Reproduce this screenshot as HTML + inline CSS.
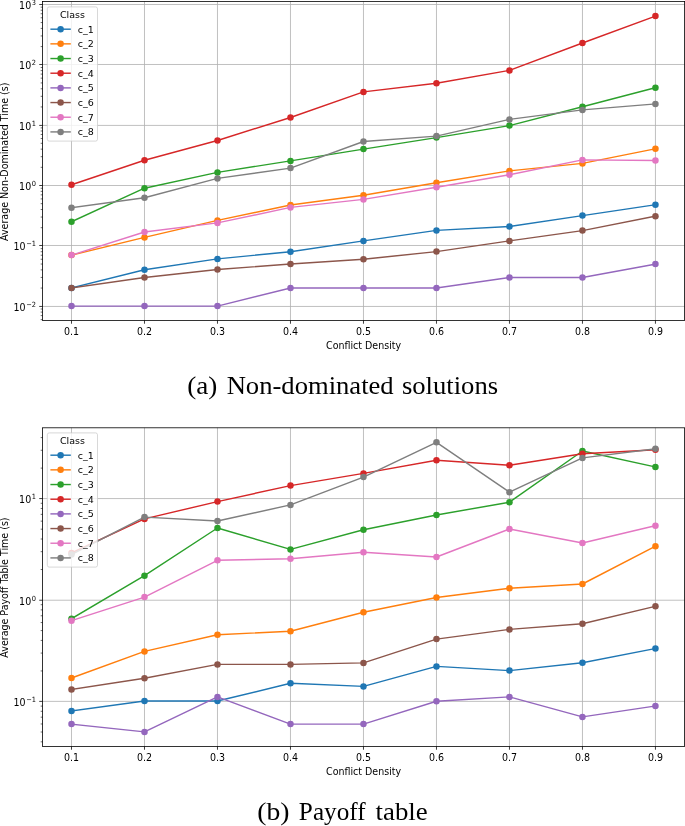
<!DOCTYPE html>
<html><head><meta charset="utf-8"><title>Figure</title>
<style>html,body{margin:0;padding:0;background:#fff;width:685px;height:826px;overflow:hidden}svg{display:block}</style>
</head><body>
<svg width="685" height="826" viewBox="0 0 685 826">
<rect width="685" height="826" fill="#fff"/>
<clipPath id="clip1"><rect x="42.57" y="1.4" width="642.03" height="319"/></clipPath>
<path d="M71.49 1.4V320.4M144.49 1.4V320.4M217.48 1.4V320.4M290.48 1.4V320.4M363.47 1.4V320.4M436.47 1.4V320.4M509.46 1.4V320.4M582.46 1.4V320.4M655.45 1.4V320.4M42.57 306.45H684.6M42.57 245.49H684.6M42.57 185.5H684.6M42.57 125.42H684.6M42.57 64.49H684.6M42.57 4.5H684.6" stroke="#b0b0b0" stroke-width="0.8" fill="none"/>
<g clip-path="url(#clip1)">
<path d="M71.49 288 L144.49 269.7 L217.48 258.9 L290.48 251.7 L363.47 240.9 L436.47 230.4 L509.46 226.5 L582.46 215.6 L655.45 204.7" stroke="#1f77b4" stroke-width="1.43" fill="none" stroke-linejoin="round" stroke-linecap="square"/>
<circle cx="71.49" cy="288" r="3.25" fill="#1f77b4"/><circle cx="144.49" cy="269.7" r="3.25" fill="#1f77b4"/><circle cx="217.48" cy="258.9" r="3.25" fill="#1f77b4"/><circle cx="290.48" cy="251.7" r="3.25" fill="#1f77b4"/><circle cx="363.47" cy="240.9" r="3.25" fill="#1f77b4"/><circle cx="436.47" cy="230.4" r="3.25" fill="#1f77b4"/><circle cx="509.46" cy="226.5" r="3.25" fill="#1f77b4"/><circle cx="582.46" cy="215.6" r="3.25" fill="#1f77b4"/><circle cx="655.45" cy="204.7" r="3.25" fill="#1f77b4"/>
<path d="M71.49 255.1 L144.49 237.4 L217.48 220.4 L290.48 205 L363.47 195.3 L436.47 182.75 L509.46 170.9 L582.46 163.4 L655.45 148.8" stroke="#ff7f0e" stroke-width="1.43" fill="none" stroke-linejoin="round" stroke-linecap="square"/>
<circle cx="71.49" cy="255.1" r="3.25" fill="#ff7f0e"/><circle cx="144.49" cy="237.4" r="3.25" fill="#ff7f0e"/><circle cx="217.48" cy="220.4" r="3.25" fill="#ff7f0e"/><circle cx="290.48" cy="205" r="3.25" fill="#ff7f0e"/><circle cx="363.47" cy="195.3" r="3.25" fill="#ff7f0e"/><circle cx="436.47" cy="182.75" r="3.25" fill="#ff7f0e"/><circle cx="509.46" cy="170.9" r="3.25" fill="#ff7f0e"/><circle cx="582.46" cy="163.4" r="3.25" fill="#ff7f0e"/><circle cx="655.45" cy="148.8" r="3.25" fill="#ff7f0e"/>
<path d="M71.49 221.7 L144.49 188.2 L217.48 172.4 L290.48 160.9 L363.47 149.1 L436.47 137.6 L509.46 125.6 L582.46 106.8 L655.45 87.7" stroke="#2ca02c" stroke-width="1.43" fill="none" stroke-linejoin="round" stroke-linecap="square"/>
<circle cx="71.49" cy="221.7" r="3.25" fill="#2ca02c"/><circle cx="144.49" cy="188.2" r="3.25" fill="#2ca02c"/><circle cx="217.48" cy="172.4" r="3.25" fill="#2ca02c"/><circle cx="290.48" cy="160.9" r="3.25" fill="#2ca02c"/><circle cx="363.47" cy="149.1" r="3.25" fill="#2ca02c"/><circle cx="436.47" cy="137.6" r="3.25" fill="#2ca02c"/><circle cx="509.46" cy="125.6" r="3.25" fill="#2ca02c"/><circle cx="582.46" cy="106.8" r="3.25" fill="#2ca02c"/><circle cx="655.45" cy="87.7" r="3.25" fill="#2ca02c"/>
<path d="M71.49 184.8 L144.49 160.3 L217.48 140.5 L290.48 117.5 L363.47 91.9 L436.47 83.3 L509.46 70.4 L582.46 43 L655.45 16.1" stroke="#d62728" stroke-width="1.43" fill="none" stroke-linejoin="round" stroke-linecap="square"/>
<circle cx="71.49" cy="184.8" r="3.25" fill="#d62728"/><circle cx="144.49" cy="160.3" r="3.25" fill="#d62728"/><circle cx="217.48" cy="140.5" r="3.25" fill="#d62728"/><circle cx="290.48" cy="117.5" r="3.25" fill="#d62728"/><circle cx="363.47" cy="91.9" r="3.25" fill="#d62728"/><circle cx="436.47" cy="83.3" r="3.25" fill="#d62728"/><circle cx="509.46" cy="70.4" r="3.25" fill="#d62728"/><circle cx="582.46" cy="43" r="3.25" fill="#d62728"/><circle cx="655.45" cy="16.1" r="3.25" fill="#d62728"/>
<path d="M71.49 306.1 L144.49 306.1 L217.48 306.1 L290.48 288 L363.47 288 L436.47 288 L509.46 277.5 L582.46 277.5 L655.45 264.1" stroke="#9467bd" stroke-width="1.43" fill="none" stroke-linejoin="round" stroke-linecap="square"/>
<circle cx="71.49" cy="306.1" r="3.25" fill="#9467bd"/><circle cx="144.49" cy="306.1" r="3.25" fill="#9467bd"/><circle cx="217.48" cy="306.1" r="3.25" fill="#9467bd"/><circle cx="290.48" cy="288" r="3.25" fill="#9467bd"/><circle cx="363.47" cy="288" r="3.25" fill="#9467bd"/><circle cx="436.47" cy="288" r="3.25" fill="#9467bd"/><circle cx="509.46" cy="277.5" r="3.25" fill="#9467bd"/><circle cx="582.46" cy="277.5" r="3.25" fill="#9467bd"/><circle cx="655.45" cy="264.1" r="3.25" fill="#9467bd"/>
<path d="M71.49 288 L144.49 277.5 L217.48 269.5 L290.48 264 L363.47 259.2 L436.47 251.6 L509.46 240.9 L582.46 230.6 L655.45 216.2" stroke="#8c564b" stroke-width="1.43" fill="none" stroke-linejoin="round" stroke-linecap="square"/>
<circle cx="71.49" cy="288" r="3.25" fill="#8c564b"/><circle cx="144.49" cy="277.5" r="3.25" fill="#8c564b"/><circle cx="217.48" cy="269.5" r="3.25" fill="#8c564b"/><circle cx="290.48" cy="264" r="3.25" fill="#8c564b"/><circle cx="363.47" cy="259.2" r="3.25" fill="#8c564b"/><circle cx="436.47" cy="251.6" r="3.25" fill="#8c564b"/><circle cx="509.46" cy="240.9" r="3.25" fill="#8c564b"/><circle cx="582.46" cy="230.6" r="3.25" fill="#8c564b"/><circle cx="655.45" cy="216.2" r="3.25" fill="#8c564b"/>
<path d="M71.49 255.1 L144.49 232 L217.48 222.9 L290.48 207.4 L363.47 199.4 L436.47 187.2 L509.46 174.8 L582.46 159.9 L655.45 160.5" stroke="#e377c2" stroke-width="1.43" fill="none" stroke-linejoin="round" stroke-linecap="square"/>
<circle cx="71.49" cy="255.1" r="3.25" fill="#e377c2"/><circle cx="144.49" cy="232" r="3.25" fill="#e377c2"/><circle cx="217.48" cy="222.9" r="3.25" fill="#e377c2"/><circle cx="290.48" cy="207.4" r="3.25" fill="#e377c2"/><circle cx="363.47" cy="199.4" r="3.25" fill="#e377c2"/><circle cx="436.47" cy="187.2" r="3.25" fill="#e377c2"/><circle cx="509.46" cy="174.8" r="3.25" fill="#e377c2"/><circle cx="582.46" cy="159.9" r="3.25" fill="#e377c2"/><circle cx="655.45" cy="160.5" r="3.25" fill="#e377c2"/>
<path d="M71.49 207.7 L144.49 197.7 L217.48 178.4 L290.48 168.1 L363.47 141.5 L436.47 136.1 L509.46 119.4 L582.46 109.9 L655.45 103.9" stroke="#7f7f7f" stroke-width="1.43" fill="none" stroke-linejoin="round" stroke-linecap="square"/>
<circle cx="71.49" cy="207.7" r="3.25" fill="#7f7f7f"/><circle cx="144.49" cy="197.7" r="3.25" fill="#7f7f7f"/><circle cx="217.48" cy="178.4" r="3.25" fill="#7f7f7f"/><circle cx="290.48" cy="168.1" r="3.25" fill="#7f7f7f"/><circle cx="363.47" cy="141.5" r="3.25" fill="#7f7f7f"/><circle cx="436.47" cy="136.1" r="3.25" fill="#7f7f7f"/><circle cx="509.46" cy="119.4" r="3.25" fill="#7f7f7f"/><circle cx="582.46" cy="109.9" r="3.25" fill="#7f7f7f"/><circle cx="655.45" cy="103.9" r="3.25" fill="#7f7f7f"/>
</g>
<rect x="42.57" y="1.4" width="642.03" height="319" fill="none" stroke="#000" stroke-width="0.8"/>
<path d="M71.49 320.4v3.33M144.49 320.4v3.33M217.48 320.4v3.33M290.48 320.4v3.33M363.47 320.4v3.33M436.47 320.4v3.33M509.46 320.4v3.33M582.46 320.4v3.33M655.45 320.4v3.33M42.57 306.45h-3.33M42.57 245.49h-3.33M42.57 185.5h-3.33M42.57 125.42h-3.33M42.57 64.49h-3.33M42.57 4.5h-3.33" stroke="#000" stroke-width="0.76"/>
<path d="M42.57 319.63h-1.9M42.57 315.59h-1.9M42.57 312.09h-1.9M42.57 309h-1.9M42.57 288.06h-1.9M42.57 277.43h-1.9M42.57 269.89h-1.9M42.57 264.04h-1.9M42.57 259.26h-1.9M42.57 255.22h-1.9M42.57 251.72h-1.9M42.57 248.63h-1.9M42.57 227.69h-1.9M42.57 217.06h-1.9M42.57 209.52h-1.9M42.57 203.67h-1.9M42.57 198.89h-1.9M42.57 194.85h-1.9M42.57 191.35h-1.9M42.57 188.26h-1.9M42.57 167.32h-1.9M42.57 156.69h-1.9M42.57 149.15h-1.9M42.57 143.3h-1.9M42.57 138.52h-1.9M42.57 134.48h-1.9M42.57 130.98h-1.9M42.57 127.89h-1.9M42.57 106.95h-1.9M42.57 96.32h-1.9M42.57 88.78h-1.9M42.57 82.93h-1.9M42.57 78.15h-1.9M42.57 74.11h-1.9M42.57 70.61h-1.9M42.57 67.52h-1.9M42.57 46.58h-1.9M42.57 35.95h-1.9M42.57 28.41h-1.9M42.57 22.56h-1.9M42.57 17.78h-1.9M42.57 13.74h-1.9M42.57 10.24h-1.9M42.57 7.15h-1.9" stroke="#000" stroke-width="0.57"/>
<g font-family="'DejaVu Sans', 'Liberation Sans', sans-serif" font-size="9.5" fill="#000">
<text transform="translate(71.49,334.5) scale(1,1.08)" text-anchor="middle">0.1</text>
<text transform="translate(144.49,334.5) scale(1,1.08)" text-anchor="middle">0.2</text>
<text transform="translate(217.48,334.5) scale(1,1.08)" text-anchor="middle">0.3</text>
<text transform="translate(290.48,334.5) scale(1,1.08)" text-anchor="middle">0.4</text>
<text transform="translate(363.47,334.5) scale(1,1.08)" text-anchor="middle">0.5</text>
<text transform="translate(436.47,334.5) scale(1,1.08)" text-anchor="middle">0.6</text>
<text transform="translate(509.46,334.5) scale(1,1.08)" text-anchor="middle">0.7</text>
<text transform="translate(582.46,334.5) scale(1,1.08)" text-anchor="middle">0.8</text>
<text transform="translate(655.45,334.5) scale(1,1.08)" text-anchor="middle">0.9</text>
<text transform="translate(36.1,310.75) scale(1,1.08)" text-anchor="end">10<tspan dx="0.7" dy="-3.6" font-size="6.65">−2</tspan></text>
<text transform="translate(36.1,249.79) scale(1,1.08)" text-anchor="end">10<tspan dx="0.7" dy="-3.6" font-size="6.65">−1</tspan></text>
<text transform="translate(36.1,189.8) scale(1,1.08)" text-anchor="end">10<tspan dx="0.7" dy="-3.6" font-size="6.65">0</tspan></text>
<text transform="translate(36.1,129.72) scale(1,1.08)" text-anchor="end">10<tspan dx="0.7" dy="-3.6" font-size="6.65">1</tspan></text>
<text transform="translate(36.1,68.79) scale(1,1.08)" text-anchor="end">10<tspan dx="0.7" dy="-3.6" font-size="6.65">2</tspan></text>
<text transform="translate(36.1,8.8) scale(1,1.08)" text-anchor="end">10<tspan dx="0.7" dy="-3.6" font-size="6.65">3</tspan></text>
<text transform="translate(363.59,348.5) scale(1,1.08)" text-anchor="middle">Conflict Density</text>
<text transform="translate(7.8,161.8) rotate(-90) scale(1,1.08)" text-anchor="middle">Average Non-Dominated Time (s)</text>
</g>
<rect x="47.3" y="6.9" width="50.2" height="134.2" rx="1.9" fill="#fff" fill-opacity="0.8" stroke="#ccc" stroke-opacity="0.8" stroke-width="0.95"/>
<g font-family="'DejaVu Sans', 'Liberation Sans', sans-serif" font-size="9.5" fill="#000">
<text x="72.4" y="17.7" text-anchor="middle">Class</text>
<path d="M51.1 29.19H70.1" stroke="#1f77b4" stroke-width="1.43" stroke-linecap="square"/>
<circle cx="60.6" cy="29.19" r="3.25" fill="#1f77b4"/>
<text x="77.7" y="32.59">c_1</text>
<path d="M51.1 43.86H70.1" stroke="#ff7f0e" stroke-width="1.43" stroke-linecap="square"/>
<circle cx="60.6" cy="43.86" r="3.25" fill="#ff7f0e"/>
<text x="77.7" y="47.26">c_2</text>
<path d="M51.1 58.54H70.1" stroke="#2ca02c" stroke-width="1.43" stroke-linecap="square"/>
<circle cx="60.6" cy="58.54" r="3.25" fill="#2ca02c"/>
<text x="77.7" y="61.94">c_3</text>
<path d="M51.1 73.21H70.1" stroke="#d62728" stroke-width="1.43" stroke-linecap="square"/>
<circle cx="60.6" cy="73.21" r="3.25" fill="#d62728"/>
<text x="77.7" y="76.61">c_4</text>
<path d="M51.1 87.89H70.1" stroke="#9467bd" stroke-width="1.43" stroke-linecap="square"/>
<circle cx="60.6" cy="87.89" r="3.25" fill="#9467bd"/>
<text x="77.7" y="91.29">c_5</text>
<path d="M51.1 102.56H70.1" stroke="#8c564b" stroke-width="1.43" stroke-linecap="square"/>
<circle cx="60.6" cy="102.56" r="3.25" fill="#8c564b"/>
<text x="77.7" y="105.96">c_6</text>
<path d="M51.1 117.23H70.1" stroke="#e377c2" stroke-width="1.43" stroke-linecap="square"/>
<circle cx="60.6" cy="117.23" r="3.25" fill="#e377c2"/>
<text x="77.7" y="120.63">c_7</text>
<path d="M51.1 131.91H70.1" stroke="#7f7f7f" stroke-width="1.43" stroke-linecap="square"/>
<circle cx="60.6" cy="131.91" r="3.25" fill="#7f7f7f"/>
<text x="77.7" y="135.31">c_8</text>
</g>
<text transform="translate(187.21,394.20) scale(1.0841,1)" font-family="'Liberation Serif', 'DejaVu Serif', serif" font-size="25" fill="#000">(a)</text>
<text transform="translate(226.63,394.20) scale(1.0650,1)" font-family="'Liberation Serif', 'DejaVu Serif', serif" font-size="25" fill="#000">Non-dominated</text>
<text transform="translate(401.91,394.20) scale(1.0659,1)" font-family="'Liberation Serif', 'DejaVu Serif', serif" font-size="25" fill="#000">solutions</text>
<clipPath id="clip2"><rect x="42.57" y="427.8" width="642.03" height="318.6"/></clipPath>
<path d="M71.49 427.8V746.4M144.49 427.8V746.4M217.48 427.8V746.4M290.48 427.8V746.4M363.47 427.8V746.4M436.47 427.8V746.4M509.46 427.8V746.4M582.46 427.8V746.4M655.45 427.8V746.4M42.57 701.39H684.6M42.57 600.22H684.6M42.57 498.57H684.6" stroke="#b0b0b0" stroke-width="0.8" fill="none"/>
<g clip-path="url(#clip2)">
<path d="M71.49 710.9 L144.49 701 L217.48 701 L290.48 683.3 L363.47 686.4 L436.47 666.4 L509.46 670.6 L582.46 662.7 L655.45 648.5" stroke="#1f77b4" stroke-width="1.43" fill="none" stroke-linejoin="round" stroke-linecap="square"/>
<circle cx="71.49" cy="710.9" r="3.25" fill="#1f77b4"/><circle cx="144.49" cy="701" r="3.25" fill="#1f77b4"/><circle cx="217.48" cy="701" r="3.25" fill="#1f77b4"/><circle cx="290.48" cy="683.3" r="3.25" fill="#1f77b4"/><circle cx="363.47" cy="686.4" r="3.25" fill="#1f77b4"/><circle cx="436.47" cy="666.4" r="3.25" fill="#1f77b4"/><circle cx="509.46" cy="670.6" r="3.25" fill="#1f77b4"/><circle cx="582.46" cy="662.7" r="3.25" fill="#1f77b4"/><circle cx="655.45" cy="648.5" r="3.25" fill="#1f77b4"/>
<path d="M71.49 678 L144.49 651.4 L217.48 634.7 L290.48 631.2 L363.47 612.3 L436.47 597.5 L509.46 588.2 L582.46 584 L655.45 546.3" stroke="#ff7f0e" stroke-width="1.43" fill="none" stroke-linejoin="round" stroke-linecap="square"/>
<circle cx="71.49" cy="678" r="3.25" fill="#ff7f0e"/><circle cx="144.49" cy="651.4" r="3.25" fill="#ff7f0e"/><circle cx="217.48" cy="634.7" r="3.25" fill="#ff7f0e"/><circle cx="290.48" cy="631.2" r="3.25" fill="#ff7f0e"/><circle cx="363.47" cy="612.3" r="3.25" fill="#ff7f0e"/><circle cx="436.47" cy="597.5" r="3.25" fill="#ff7f0e"/><circle cx="509.46" cy="588.2" r="3.25" fill="#ff7f0e"/><circle cx="582.46" cy="584" r="3.25" fill="#ff7f0e"/><circle cx="655.45" cy="546.3" r="3.25" fill="#ff7f0e"/>
<path d="M71.49 618.7 L144.49 575.7 L217.48 528 L290.48 549.4 L363.47 529.8 L436.47 515 L509.46 502.2 L582.46 451 L655.45 467" stroke="#2ca02c" stroke-width="1.43" fill="none" stroke-linejoin="round" stroke-linecap="square"/>
<circle cx="71.49" cy="618.7" r="3.25" fill="#2ca02c"/><circle cx="144.49" cy="575.7" r="3.25" fill="#2ca02c"/><circle cx="217.48" cy="528" r="3.25" fill="#2ca02c"/><circle cx="290.48" cy="549.4" r="3.25" fill="#2ca02c"/><circle cx="363.47" cy="529.8" r="3.25" fill="#2ca02c"/><circle cx="436.47" cy="515" r="3.25" fill="#2ca02c"/><circle cx="509.46" cy="502.2" r="3.25" fill="#2ca02c"/><circle cx="582.46" cy="451" r="3.25" fill="#2ca02c"/><circle cx="655.45" cy="467" r="3.25" fill="#2ca02c"/>
<path d="M71.49 553 L144.49 518.9 L217.48 501.6 L290.48 485.6 L363.47 473.4 L436.47 460.3 L509.46 465.2 L582.46 453.7 L655.45 449.8" stroke="#d62728" stroke-width="1.43" fill="none" stroke-linejoin="round" stroke-linecap="square"/>
<circle cx="71.49" cy="553" r="3.25" fill="#d62728"/><circle cx="144.49" cy="518.9" r="3.25" fill="#d62728"/><circle cx="217.48" cy="501.6" r="3.25" fill="#d62728"/><circle cx="290.48" cy="485.6" r="3.25" fill="#d62728"/><circle cx="363.47" cy="473.4" r="3.25" fill="#d62728"/><circle cx="436.47" cy="460.3" r="3.25" fill="#d62728"/><circle cx="509.46" cy="465.2" r="3.25" fill="#d62728"/><circle cx="582.46" cy="453.7" r="3.25" fill="#d62728"/><circle cx="655.45" cy="449.8" r="3.25" fill="#d62728"/>
<path d="M71.49 724.1 L144.49 731.9 L217.48 696.9 L290.48 724.1 L363.47 724.1 L436.47 701.2 L509.46 696.9 L582.46 716.9 L655.45 706" stroke="#9467bd" stroke-width="1.43" fill="none" stroke-linejoin="round" stroke-linecap="square"/>
<circle cx="71.49" cy="724.1" r="3.25" fill="#9467bd"/><circle cx="144.49" cy="731.9" r="3.25" fill="#9467bd"/><circle cx="217.48" cy="696.9" r="3.25" fill="#9467bd"/><circle cx="290.48" cy="724.1" r="3.25" fill="#9467bd"/><circle cx="363.47" cy="724.1" r="3.25" fill="#9467bd"/><circle cx="436.47" cy="701.2" r="3.25" fill="#9467bd"/><circle cx="509.46" cy="696.9" r="3.25" fill="#9467bd"/><circle cx="582.46" cy="716.9" r="3.25" fill="#9467bd"/><circle cx="655.45" cy="706" r="3.25" fill="#9467bd"/>
<path d="M71.49 689.5 L144.49 678.2 L217.48 664.4 L290.48 664.4 L363.47 662.9 L436.47 639.1 L509.46 629.4 L582.46 623.8 L655.45 606.3" stroke="#8c564b" stroke-width="1.43" fill="none" stroke-linejoin="round" stroke-linecap="square"/>
<circle cx="71.49" cy="689.5" r="3.25" fill="#8c564b"/><circle cx="144.49" cy="678.2" r="3.25" fill="#8c564b"/><circle cx="217.48" cy="664.4" r="3.25" fill="#8c564b"/><circle cx="290.48" cy="664.4" r="3.25" fill="#8c564b"/><circle cx="363.47" cy="662.9" r="3.25" fill="#8c564b"/><circle cx="436.47" cy="639.1" r="3.25" fill="#8c564b"/><circle cx="509.46" cy="629.4" r="3.25" fill="#8c564b"/><circle cx="582.46" cy="623.8" r="3.25" fill="#8c564b"/><circle cx="655.45" cy="606.3" r="3.25" fill="#8c564b"/>
<path d="M71.49 620.7 L144.49 597.1 L217.48 560.3 L290.48 558.8 L363.47 552.2 L436.47 557 L509.46 529 L582.46 543 L655.45 525.7" stroke="#e377c2" stroke-width="1.43" fill="none" stroke-linejoin="round" stroke-linecap="square"/>
<circle cx="71.49" cy="620.7" r="3.25" fill="#e377c2"/><circle cx="144.49" cy="597.1" r="3.25" fill="#e377c2"/><circle cx="217.48" cy="560.3" r="3.25" fill="#e377c2"/><circle cx="290.48" cy="558.8" r="3.25" fill="#e377c2"/><circle cx="363.47" cy="552.2" r="3.25" fill="#e377c2"/><circle cx="436.47" cy="557" r="3.25" fill="#e377c2"/><circle cx="509.46" cy="529" r="3.25" fill="#e377c2"/><circle cx="582.46" cy="543" r="3.25" fill="#e377c2"/><circle cx="655.45" cy="525.7" r="3.25" fill="#e377c2"/>
<path d="M71.49 554.5 L144.49 517.1 L217.48 521 L290.48 504.9 L363.47 477.1 L436.47 442.3 L509.46 492.2 L582.46 457.9 L655.45 448.8" stroke="#7f7f7f" stroke-width="1.43" fill="none" stroke-linejoin="round" stroke-linecap="square"/>
<circle cx="71.49" cy="554.5" r="3.25" fill="#7f7f7f"/><circle cx="144.49" cy="517.1" r="3.25" fill="#7f7f7f"/><circle cx="217.48" cy="521" r="3.25" fill="#7f7f7f"/><circle cx="290.48" cy="504.9" r="3.25" fill="#7f7f7f"/><circle cx="363.47" cy="477.1" r="3.25" fill="#7f7f7f"/><circle cx="436.47" cy="442.3" r="3.25" fill="#7f7f7f"/><circle cx="509.46" cy="492.2" r="3.25" fill="#7f7f7f"/><circle cx="582.46" cy="457.9" r="3.25" fill="#7f7f7f"/><circle cx="655.45" cy="448.8" r="3.25" fill="#7f7f7f"/>
</g>
<rect x="42.57" y="427.8" width="642.03" height="318.6" fill="none" stroke="#000" stroke-width="0.8"/>
<path d="M71.49 746.4v3.33M144.49 746.4v3.33M217.48 746.4v3.33M290.48 746.4v3.33M363.47 746.4v3.33M436.47 746.4v3.33M509.46 746.4v3.33M582.46 746.4v3.33M655.45 746.4v3.33M42.57 701.39h-3.33M42.57 600.22h-3.33M42.57 498.57h-3.33" stroke="#000" stroke-width="0.76"/>
<path d="M42.57 741.83h-1.9M42.57 732h-1.9M42.57 723.97h-1.9M42.57 717.18h-1.9M42.57 711.3h-1.9M42.57 706.11h-1.9M42.57 670.94h-1.9M42.57 653.09h-1.9M42.57 640.42h-1.9M42.57 630.59h-1.9M42.57 622.56h-1.9M42.57 615.77h-1.9M42.57 609.89h-1.9M42.57 604.7h-1.9M42.57 569.53h-1.9M42.57 551.68h-1.9M42.57 539.01h-1.9M42.57 529.18h-1.9M42.57 521.15h-1.9M42.57 514.36h-1.9M42.57 508.48h-1.9M42.57 503.29h-1.9M42.57 468.12h-1.9M42.57 450.27h-1.9M42.57 437.6h-1.9" stroke="#000" stroke-width="0.57"/>
<g font-family="'DejaVu Sans', 'Liberation Sans', sans-serif" font-size="9.5" fill="#000">
<text transform="translate(71.49,760.5) scale(1,1.08)" text-anchor="middle">0.1</text>
<text transform="translate(144.49,760.5) scale(1,1.08)" text-anchor="middle">0.2</text>
<text transform="translate(217.48,760.5) scale(1,1.08)" text-anchor="middle">0.3</text>
<text transform="translate(290.48,760.5) scale(1,1.08)" text-anchor="middle">0.4</text>
<text transform="translate(363.47,760.5) scale(1,1.08)" text-anchor="middle">0.5</text>
<text transform="translate(436.47,760.5) scale(1,1.08)" text-anchor="middle">0.6</text>
<text transform="translate(509.46,760.5) scale(1,1.08)" text-anchor="middle">0.7</text>
<text transform="translate(582.46,760.5) scale(1,1.08)" text-anchor="middle">0.8</text>
<text transform="translate(655.45,760.5) scale(1,1.08)" text-anchor="middle">0.9</text>
<text transform="translate(36.1,705.69) scale(1,1.08)" text-anchor="end">10<tspan dx="0.7" dy="-3.6" font-size="6.65">−1</tspan></text>
<text transform="translate(36.1,604.52) scale(1,1.08)" text-anchor="end">10<tspan dx="0.7" dy="-3.6" font-size="6.65">0</tspan></text>
<text transform="translate(36.1,502.87) scale(1,1.08)" text-anchor="end">10<tspan dx="0.7" dy="-3.6" font-size="6.65">1</tspan></text>
<text transform="translate(363.59,774.5) scale(1,1.08)" text-anchor="middle">Conflict Density</text>
<text transform="translate(7.9,587.55) rotate(-90) scale(1,1.08)" text-anchor="middle">Average Payoff Table Time (s)</text>
</g>
<rect x="47.3" y="432.9" width="50.2" height="134.2" rx="1.9" fill="#fff" fill-opacity="0.8" stroke="#ccc" stroke-opacity="0.8" stroke-width="0.95"/>
<g font-family="'DejaVu Sans', 'Liberation Sans', sans-serif" font-size="9.5" fill="#000">
<text x="72.4" y="443.7" text-anchor="middle">Class</text>
<path d="M51.1 455.19H70.1" stroke="#1f77b4" stroke-width="1.43" stroke-linecap="square"/>
<circle cx="60.6" cy="455.19" r="3.25" fill="#1f77b4"/>
<text x="77.7" y="458.59">c_1</text>
<path d="M51.1 469.86H70.1" stroke="#ff7f0e" stroke-width="1.43" stroke-linecap="square"/>
<circle cx="60.6" cy="469.86" r="3.25" fill="#ff7f0e"/>
<text x="77.7" y="473.26">c_2</text>
<path d="M51.1 484.54H70.1" stroke="#2ca02c" stroke-width="1.43" stroke-linecap="square"/>
<circle cx="60.6" cy="484.54" r="3.25" fill="#2ca02c"/>
<text x="77.7" y="487.94">c_3</text>
<path d="M51.1 499.21H70.1" stroke="#d62728" stroke-width="1.43" stroke-linecap="square"/>
<circle cx="60.6" cy="499.21" r="3.25" fill="#d62728"/>
<text x="77.7" y="502.61">c_4</text>
<path d="M51.1 513.89H70.1" stroke="#9467bd" stroke-width="1.43" stroke-linecap="square"/>
<circle cx="60.6" cy="513.89" r="3.25" fill="#9467bd"/>
<text x="77.7" y="517.29">c_5</text>
<path d="M51.1 528.56H70.1" stroke="#8c564b" stroke-width="1.43" stroke-linecap="square"/>
<circle cx="60.6" cy="528.56" r="3.25" fill="#8c564b"/>
<text x="77.7" y="531.96">c_6</text>
<path d="M51.1 543.23H70.1" stroke="#e377c2" stroke-width="1.43" stroke-linecap="square"/>
<circle cx="60.6" cy="543.23" r="3.25" fill="#e377c2"/>
<text x="77.7" y="546.63">c_7</text>
<path d="M51.1 557.91H70.1" stroke="#7f7f7f" stroke-width="1.43" stroke-linecap="square"/>
<circle cx="60.6" cy="557.91" r="3.25" fill="#7f7f7f"/>
<text x="77.7" y="561.31">c_8</text>
</g>
<text transform="translate(257.18,820.10) scale(1.1058,1)" font-family="'Liberation Serif', 'DejaVu Serif', serif" font-size="25" fill="#000">(b)</text>
<text transform="translate(298.87,820.10) scale(1.0080,1)" font-family="'Liberation Serif', 'DejaVu Serif', serif" font-size="25" fill="#000">Payoff</text>
<text transform="translate(375.53,820.10) scale(1.0742,1)" font-family="'Liberation Serif', 'DejaVu Serif', serif" font-size="25" fill="#000">table</text>
</svg>
</body></html>
